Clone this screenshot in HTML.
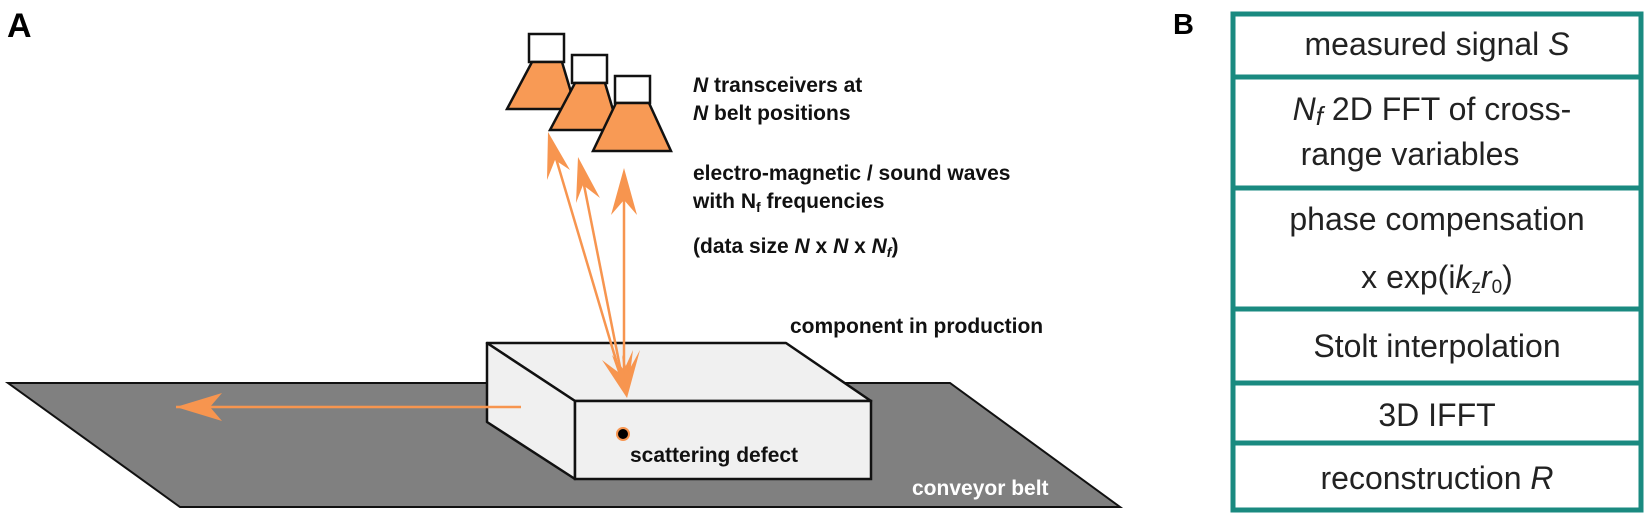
<!DOCTYPE html>
<html><head><meta charset="utf-8"><style>
html,body{margin:0;padding:0;background:#fff}
svg{display:block}
.l{font-family:"Liberation Sans",sans-serif;font-weight:bold;font-size:21px;fill:#111}
.b{font-family:"Liberation Sans",sans-serif;font-size:32px;fill:#222}
</style></head><body>
<svg width="1651" height="518" viewBox="0 0 1651 518" xmlns="http://www.w3.org/2000/svg">
<defs>
<marker id="ah" markerUnits="userSpaceOnUse" markerWidth="60" markerHeight="40" refX="0" refY="0" viewBox="-50 -20 60 40" orient="auto">
<path d="M0,0 L-46,-14 L-34,0 L-46,14 Z" fill="#f7954f"/>
</marker>
</defs>
<text x="7" y="37" font-family="Liberation Sans,sans-serif" font-weight="bold" font-size="34">A</text>
<text x="1173" y="34" font-family="Liberation Sans,sans-serif" font-weight="bold" font-size="29">B</text>

<polygon points="8,383 950,383 1120,507 180,507" fill="#808080" stroke="#111" stroke-width="2"/>
<polygon points="487,343 786,343 871,401 575,401" fill="#f0f0f0" stroke="#111" stroke-width="2.5" stroke-linejoin="round"/>
<polygon points="487,343 575,401 575,479 487,422" fill="#f0f0f0" stroke="#111" stroke-width="2.5" stroke-linejoin="round"/>
<rect x="575" y="401" width="296" height="78" fill="#f0f0f0" stroke="#111" stroke-width="2.5"/>
<line x1="521" y1="407" x2="176" y2="407" stroke="#f7954f" stroke-width="2.5" marker-end="url(#ah)"/>
<circle cx="623" cy="434" r="6" fill="#000" stroke="#f7954f" stroke-width="2"/>
<text class="l" x="630" y="462">scattering defect</text>
<text class="l" x="790" y="333">component in production</text>
<text class="l" x="912" y="495" style="fill:#fff">conveyor belt</text>

<g stroke="#111" stroke-width="2.5" stroke-linejoin="miter">
<rect x="529" y="34" width="35" height="28" fill="#fff"/>
<polygon points="532,62 562,62 576,109 507,109" fill="#f89a55"/>
<rect x="572" y="55" width="35" height="28" fill="#fff"/>
<polygon points="575,83 605,83 619,130 550,130" fill="#f89a55"/>
<rect x="615" y="76" width="35" height="27" fill="#fff"/>
<polygon points="616,103 649,103 671,151 593,151" fill="#f89a55"/>
</g>
<g stroke="#f7954f" stroke-width="2.5">
<line x1="555" y1="155" x2="621" y2="377" />
<line x1="583" y1="180" x2="622" y2="377" />
<line x1="624" y1="190" x2="624" y2="377" />
</g>
<g fill="#f7954f">
<path d="M548,132 L547,180 L555,160 L570,170 Z"/>
<path d="M578,157 L576,203 L583,185 L600,198 Z"/>
<path d="M624,168 L611,215 L624,200 L637,215 Z"/>
<path d="M627,398 L602,360 L618,372 L615,352 Z"/>
<path d="M627,398 L612,355 L624,370 L633,350 Z"/>
<path d="M627,398 L622,355 L628,372 L640,350 Z"/>
</g>

<text class="l" x="693" y="92"><tspan font-style="italic">N</tspan> transceivers at</text>
<text class="l" x="693" y="120"><tspan font-style="italic">N</tspan> belt positions</text>
<text class="l" x="693" y="180">electro-magnetic / sound waves</text>
<text class="l" x="693" y="208">with N<tspan font-size="14" dy="4">f</tspan><tspan dy="-4"> frequencies</tspan></text>
<text class="l" x="693" y="253">(data size <tspan font-style="italic">N</tspan> x <tspan font-style="italic">N</tspan> x <tspan font-style="italic">N</tspan><tspan font-size="14" dy="4" font-style="italic">f</tspan><tspan dy="-4">)</tspan></text>

<g fill="none" stroke="#1a8a80" stroke-width="5">
<rect x="1233" y="14" width="408" height="496"/>
<line x1="1233" y1="77" x2="1641" y2="77"/>
<line x1="1233" y1="188" x2="1641" y2="188"/>
<line x1="1233" y1="309" x2="1641" y2="309"/>
<line x1="1233" y1="383" x2="1641" y2="383"/>
<line x1="1233" y1="443" x2="1641" y2="443"/>
</g>
<g text-anchor="middle">
<text class="b" x="1437" y="55">measured signal <tspan font-style="italic">S</tspan></text>
<text class="b" x="1432" y="120"><tspan font-style="italic">N<tspan font-size="26" dy="5">f</tspan></tspan><tspan dy="-5"> 2D FFT of cross-</tspan></text>
<text class="b" x="1410" y="165">range variables</text>
<text class="b" x="1437" y="230">phase compensation</text>
<text class="b" x="1437" y="288">x exp(i<tspan font-style="italic">k</tspan><tspan font-size="19" dy="5">z</tspan><tspan font-style="italic" dy="-5">r</tspan><tspan font-size="19" dy="5">0</tspan><tspan dy="-5">)</tspan></text>
<text class="b" x="1437" y="357">Stolt interpolation</text>
<text class="b" x="1437" y="426">3D IFFT</text>
<text class="b" x="1437" y="489">reconstruction <tspan font-style="italic">R</tspan></text>
</g>
</svg>
</body></html>
